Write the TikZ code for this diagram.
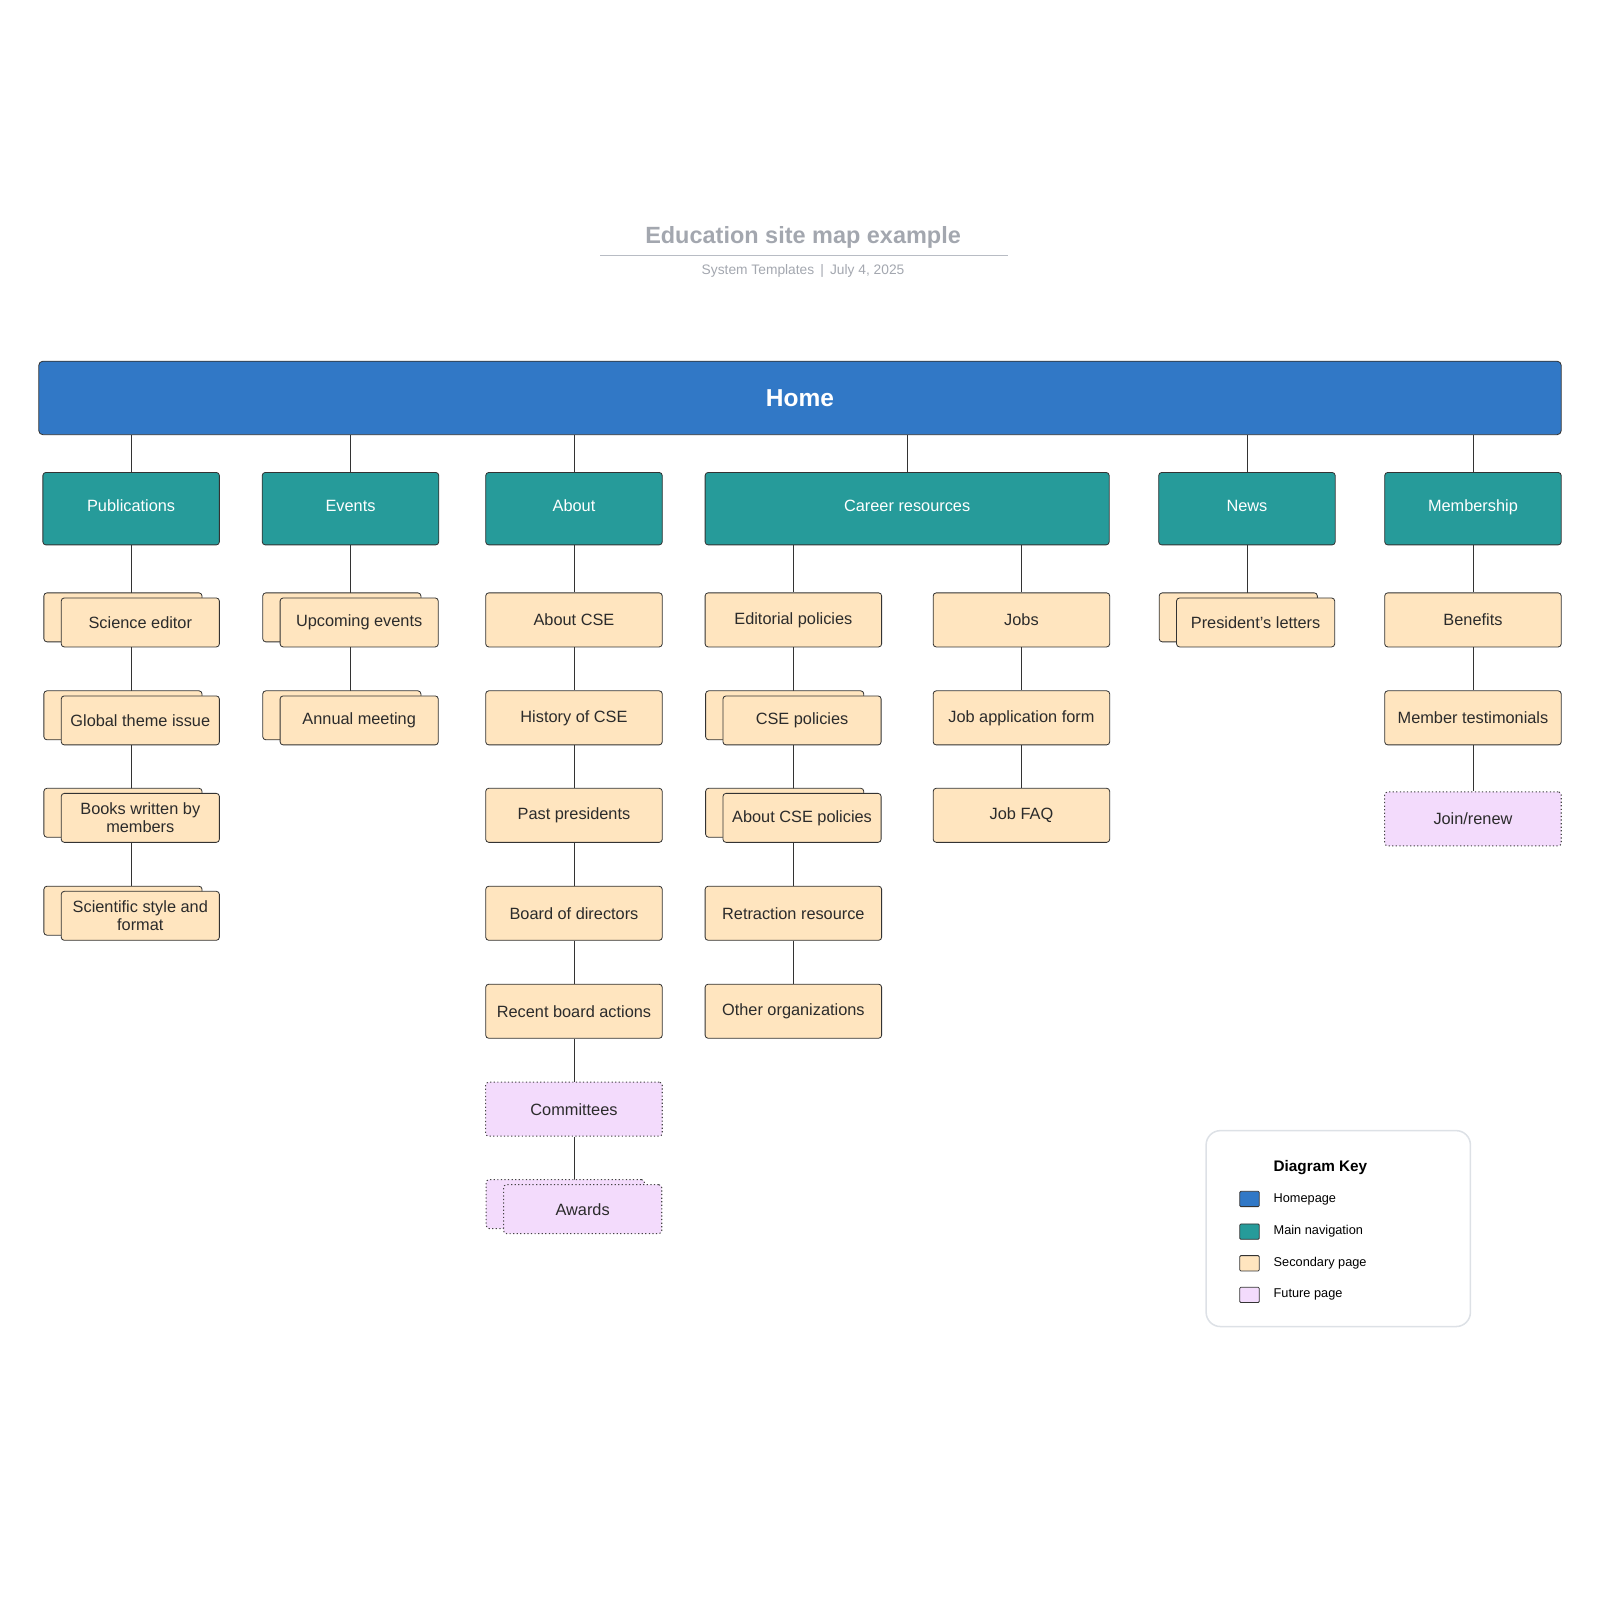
\documentclass[tikz,border=0pt]{standalone}
\usepackage{fontspec}
\setmainfont{Liberation Sans}
\usetikzlibrary{shadows,backgrounds}
\definecolor{homeblue}{HTML}{3178C6}
\definecolor{navteal}{HTML}{269B9A}
\definecolor{pagepeach}{HTML}{FFE5BF}
\definecolor{futurepink}{HTML}{F3DBFC}
\definecolor{edge}{HTML}{333333}
\definecolor{dotedge}{HTML}{444444}
\definecolor{textdark}{HTML}{2B2B2B}
\definecolor{titlegray}{HTML}{A3A7AF}
\definecolor{rulegray}{HTML}{B8BCC4}
\definecolor{keyedge}{HTML}{DDE1E6}
\begin{document}
\begin{tikzpicture}[x=1pt,y=-1pt,
homebox/.style={draw=edge,line width=0.8pt,fill=homeblue,rounded corners=4pt,minimum width=1492pt,minimum height=72pt,inner sep=0pt,text=white,font=\fontsize{24}{28}\selectfont\bfseries},
navbox/.style={draw=edge,line width=0.8pt,fill=navteal,rounded corners=3pt,minimum width=173pt,minimum height=71pt,inner sep=0pt,text height=11.5pt,text depth=5pt,text=white,font=\fontsize{16}{19}\selectfont},
pagebox/.style={draw=edge,line width=0.8pt,fill=pagepeach,rounded corners=3pt,minimum width=173pt,minimum height=53pt,inner sep=2pt,align=center,text=textdark,font=\fontsize{16}{18}\selectfont},
stackbox/.style={pagebox,minimum width=155pt,minimum height=48pt,copy shadow={shadow xshift=-17pt,shadow yshift=5pt,fill=pagepeach,draw=edge,line width=0.8pt}},
futurebox/.style={pagebox,fill=futurepink,draw=dotedge,line width=1pt,dash pattern=on 1.2pt off 2.3pt},
futurestack/.style={futurebox,minimum width=155pt,minimum height=48pt,copy shadow={shadow xshift=-17pt,shadow yshift=5pt,fill=futurepink,draw=dotedge,line width=1pt,dash pattern=on 1.2pt off 2.3pt}},
keyswatch/.style={draw=edge,line width=0.8pt,minimum width=19pt,minimum height=15pt,inner sep=0pt,rounded corners=1pt},
keylabel/.style={anchor=west,inner sep=0pt,font=\fontsize{12.5}{14}\selectfont},
link/.style={draw=edge,line width=0.8pt}]

\useasboundingbox (0,0) rectangle (1568,1568);

% title
\draw (787,233) node[text=titlegray,font=\fontsize{23}{27}\selectfont\bfseries] (title) {Education site map example};
\draw[rulegray,line width=0.8pt] (588,250) -- (988,250);
\draw (787,266) node[text=titlegray,font=\fontsize{13.5}{15}\selectfont] (sub) {System Templates \,\textbar\, July 4, 2025};

% home and main navigation
\draw (784,390) node[homebox] (home) {Home};
\draw (128.5,498.5) node[navbox] (pub) {Publications};
\draw (343.5,498.5) node[navbox] (evt) {Events};
\draw (562.5,498.5) node[navbox] (abt) {About};
\draw (889,498.5) node[navbox,minimum width=396pt] (car) {Career resources};
\draw (1222,498.5) node[navbox] (nws) {News};
\draw (1443.5,498.5) node[navbox] (mem) {Membership};

% publications
\draw (137.5,610) node[stackbox] (sci) {Science editor};
\draw (137.5,706) node[stackbox] (gti) {Global theme issue};
\draw (137.5,801.5) node[stackbox] (bks) {Books written by\\members};
\draw (137.5,897.5) node[stackbox] (ssf) {Scientific style and\\format};

% events
\draw (352,610) node[stackbox] (upc) {Upcoming events};
\draw (352,706) node[stackbox] (anm) {Annual meeting};

% about
\draw (562.5,607.5) node[pagebox] (acs) {About CSE};
\draw (562.5,703.5) node[pagebox] (hst) {History of CSE};
\draw (562.5,799) node[pagebox] (pst) {Past presidents};
\draw (562.5,895) node[pagebox] (brd) {Board of directors};
\draw (562.5,991) node[pagebox] (rba) {Recent board actions};
\draw (562.5,1087) node[futurebox] (cmt) {Committees};
\draw (571,1185) node[futurestack] (awd) {Awards};

% career resources
\draw (777.5,607.5) node[pagebox] (edp) {Editorial policies};
\draw (786,706) node[stackbox] (csp) {CSE policies};
\draw (786,801.5) node[stackbox] (acp) {About CSE policies};
\draw (777.5,895) node[pagebox] (ret) {Retraction resource};
\draw (777.5,991) node[pagebox] (oth) {Other organizations};
\draw (1001,607.5) node[pagebox] (job) {Jobs};
\draw (1001,703.5) node[pagebox] (jaf) {Job application form};
\draw (1001,799) node[pagebox] (jfq) {Job FAQ};

% news
\draw (1230.5,610) node[stackbox] (prl) {President's letters};

% membership
\draw (1443.5,607.5) node[pagebox] (ben) {Benefits};
\draw (1443.5,703.5) node[pagebox] (mts) {Member testimonials};
\draw (1443.5,802.5) node[futurebox] (jrn) {Join/renew};

% connectors
\begin{scope}[on background layer]
\foreach \n in {pub,evt,abt,nws,mem}
  \draw[link] (home.south -| \n) -- (\n.north);
\draw[link] (home.south -| car) -- (car.north);
\foreach \a/\b in {pub/sci,sci/gti,gti/bks,bks/ssf}
  \draw[link] (\a.south -| pub) -- (\b.north -| pub);
\foreach \a/\b in {evt/upc,upc/anm}
  \draw[link] (\a.south -| evt) -- (\b.north -| evt);
\foreach \a/\b in {abt/acs,acs/hst,hst/pst,pst/brd,brd/rba,rba/cmt,cmt/awd}
  \draw[link] (\a.south -| abt) -- (\b.north -| abt);
\foreach \a/\b in {car/edp,edp/csp,csp/acp,acp/ret,ret/oth}
  \draw[link] (\a.south -| edp) -- (\b.north -| edp);
\foreach \a/\b in {car/job,job/jaf,jaf/jfq}
  \draw[link] (\a.south -| job) -- (\b.north -| job);
\draw[link] (nws.south) -- (prl.north -| nws);
\foreach \a/\b in {mem/ben,ben/mts,mts/jrn}
  \draw[link] (\a.south -| mem) -- (\b.north -| mem);
\end{scope}

% diagram key
\draw[keyedge,line width=1.5pt,rounded corners=14pt] (1182,1108) rectangle (1441,1300);
\draw (1294,1144) node[font=\fontsize{15}{18}\selectfont\bfseries] (keytitle) {Diagram Key};
\draw (1224.5,1175) node[keyswatch,fill=homeblue] (k1) {};
\draw (1224.5,1207) node[keyswatch,fill=navteal] (k2) {};
\draw (1224.5,1238) node[keyswatch,fill=pagepeach] (k3) {};
\draw (1224.5,1269) node[keyswatch,fill=futurepink] (k4) {};
\draw (1248,1175) node[keylabel] (l1) {Homepage};
\draw (1248,1207) node[keylabel] (l2) {Main navigation};
\draw (1248,1238) node[keylabel] (l3) {Secondary page};
\draw (1248,1269) node[keylabel] (l4) {Future page};
\end{tikzpicture}
\end{document}
